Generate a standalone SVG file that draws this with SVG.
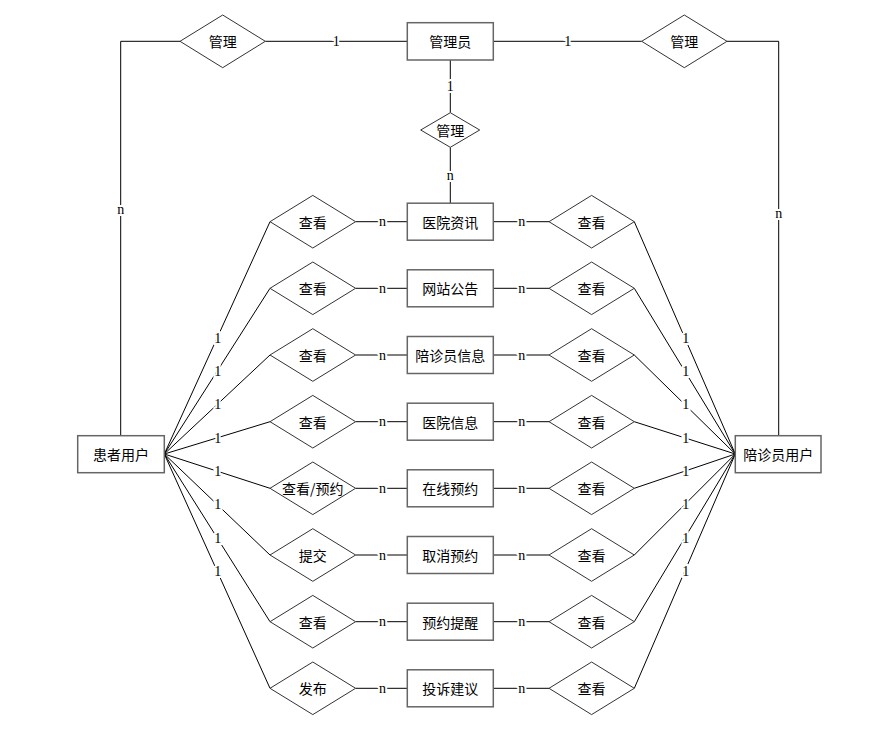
<svg xmlns="http://www.w3.org/2000/svg" width="882" height="736" viewBox="0 0 882 736">
<style>
.ent{fill:#fff;stroke:#666;stroke-width:1.5}
.rel{fill:#fff;stroke:#333;stroke-width:1}
.ln{fill:none;stroke:#000;stroke-width:1}
.t{font-family:"Noto Sans CJK SC","Liberation Sans",sans-serif;font-size:14px;text-anchor:middle;dominant-baseline:central;fill:#000}
.c{font-family:"Liberation Serif",serif;font-size:14px;text-anchor:middle;dominant-baseline:central;fill:#000;stroke:#fff;stroke-width:4;paint-order:stroke}
</style>
<rect width="882" height="736" fill="#fff"/>
<g id="connectors">
<polyline class="ln" points="180,41.3 120.7,41.3 120.7,436"/>
<line class="ln" x1="265.3" y1="41.3" x2="407.3" y2="41.3"/>
<line class="ln" x1="493.3" y1="41.3" x2="641.7" y2="41.3"/>
<polyline class="ln" points="727,41.3 778.7,41.3 778.7,436"/>
<line class="ln" x1="450.3" y1="60" x2="450.3" y2="112.7"/>
<line class="ln" x1="450.3" y1="147.3" x2="450.3" y2="203.3"/>
<g id="row-lines">
<line class="ln" x1="355.6" y1="221.7" x2="407.3" y2="221.7"/><line class="ln" x1="493.3" y1="221.7" x2="549" y2="221.7"/>
<line class="ln" x1="355.6" y1="288.3" x2="407.3" y2="288.3"/><line class="ln" x1="493.3" y1="288.3" x2="549" y2="288.3"/>
<line class="ln" x1="355.6" y1="355" x2="407.3" y2="355"/><line class="ln" x1="493.3" y1="355" x2="549" y2="355"/>
<line class="ln" x1="355.6" y1="421.7" x2="407.3" y2="421.7"/><line class="ln" x1="493.3" y1="421.7" x2="549" y2="421.7"/>
<line class="ln" x1="355.6" y1="488.3" x2="407.3" y2="488.3"/><line class="ln" x1="493.3" y1="488.3" x2="549" y2="488.3"/>
<line class="ln" x1="355.6" y1="555" x2="407.3" y2="555"/><line class="ln" x1="493.3" y1="555" x2="549" y2="555"/>
<line class="ln" x1="355.6" y1="621.7" x2="407.3" y2="621.7"/><line class="ln" x1="493.3" y1="621.7" x2="549" y2="621.7"/>
<line class="ln" x1="355.6" y1="688.3" x2="407.3" y2="688.3"/><line class="ln" x1="493.3" y1="688.3" x2="549" y2="688.3"/>
</g>
<g id="fan-lines">
<line class="ln" x1="164.3" y1="454" x2="270" y2="221.7"/><line class="ln" x1="735.3" y1="454" x2="634.3" y2="221.7"/>
<line class="ln" x1="164.3" y1="454" x2="270" y2="288.3"/><line class="ln" x1="735.3" y1="454" x2="634.3" y2="288.3"/>
<line class="ln" x1="164.3" y1="454" x2="270" y2="355"/><line class="ln" x1="735.3" y1="454" x2="634.3" y2="355"/>
<line class="ln" x1="164.3" y1="454" x2="270" y2="421.7"/><line class="ln" x1="735.3" y1="454" x2="634.3" y2="421.7"/>
<line class="ln" x1="164.3" y1="454" x2="270" y2="488.3"/><line class="ln" x1="735.3" y1="454" x2="634.3" y2="488.3"/>
<line class="ln" x1="164.3" y1="454" x2="270" y2="555"/><line class="ln" x1="735.3" y1="454" x2="634.3" y2="555"/>
<line class="ln" x1="164.3" y1="454" x2="270" y2="621.7"/><line class="ln" x1="735.3" y1="454" x2="634.3" y2="621.7"/>
<line class="ln" x1="164.3" y1="454" x2="270" y2="688.3"/><line class="ln" x1="735.3" y1="454" x2="634.3" y2="688.3"/>
</g>
<g id="cardinalities">
<text class="c" x="336.3" y="41.3">1</text>
<text class="c" x="567.7" y="41.3">1</text>
<text class="c" x="450.3" y="86.7">1</text>
<text class="c" x="450.3" y="175.7">n</text>
<text class="c" x="120.7" y="209">n</text>
<text class="c" x="778.7" y="213.3">n</text>
<text class="c" x="382.5" y="221.7">n</text><text class="c" x="521.7" y="221.7">n</text>
<text class="c" x="382.5" y="288.3">n</text><text class="c" x="521.7" y="288.3">n</text>
<text class="c" x="382.5" y="355">n</text><text class="c" x="521.7" y="355">n</text>
<text class="c" x="382.5" y="421.7">n</text><text class="c" x="521.7" y="421.7">n</text>
<text class="c" x="382.5" y="488.3">n</text><text class="c" x="521.7" y="488.3">n</text>
<text class="c" x="382.5" y="555">n</text><text class="c" x="521.7" y="555">n</text>
<text class="c" x="382.5" y="621.7">n</text><text class="c" x="521.7" y="621.7">n</text>
<text class="c" x="382.5" y="688.3">n</text><text class="c" x="521.7" y="688.3">n</text>
<text class="c" x="217.7" y="338">1</text><text class="c" x="685.7" y="338">1</text>
<text class="c" x="217.7" y="371.3">1</text><text class="c" x="685.7" y="371.3">1</text>
<text class="c" x="217.7" y="404.7">1</text><text class="c" x="685.7" y="404.7">1</text>
<text class="c" x="217.7" y="438">1</text><text class="c" x="685.7" y="438">1</text>
<text class="c" x="217.7" y="471.3">1</text><text class="c" x="685.7" y="471.3">1</text>
<text class="c" x="217.7" y="504.7">1</text><text class="c" x="685.7" y="504.7">1</text>
<text class="c" x="217.7" y="538">1</text><text class="c" x="685.7" y="538">1</text>
<text class="c" x="217.7" y="571.3">1</text><text class="c" x="685.7" y="571.3">1</text>
</g>
</g>
<g id="admin"><rect class="ent" x="407.3" y="22.7" width="86" height="37.3"/><text class="t" x="450.3" y="41.3">管理员</text></g>
<g id="patient"><rect class="ent" x="77.7" y="435.7" width="86.6" height="37"/><text class="t" x="121" y="454.2">患者用户</text></g>
<g id="escort"><rect class="ent" x="735.3" y="435.7" width="85.7" height="37"/><text class="t" x="778.2" y="454.2">陪诊员用户</text></g>
<g id="rel-manage-left"><polygon class="rel" points="180,41.3 222.7,15 265.3,41.3 222.7,67.7"/><text class="t" x="222.7" y="41.3">管理</text></g>
<g id="rel-manage-right"><polygon class="rel" points="641.7,41.3 684.3,15 727,41.3 684.3,67.7"/><text class="t" x="684.3" y="41.3">管理</text></g>
<g id="rel-manage-mid"><polygon class="rel" points="420.7,130 450.3,112.7 479.7,130 450.3,147.3"/><text class="t" x="450.3" y="130">管理</text></g>
<g id="e1"><rect class="ent" x="407.3" y="203.2" width="86" height="37"/><text class="t" x="450.3" y="221.7">医院资讯</text></g>
<g id="e2"><rect class="ent" x="407.3" y="269.8" width="86" height="37"/><text class="t" x="450.3" y="288.3">网站公告</text></g>
<g id="e3"><rect class="ent" x="407.3" y="336.5" width="86" height="37"/><text class="t" x="450.3" y="355">陪诊员信息</text></g>
<g id="e4"><rect class="ent" x="407.3" y="403.2" width="86" height="37"/><text class="t" x="450.3" y="421.7">医院信息</text></g>
<g id="e5"><rect class="ent" x="407.3" y="469.8" width="86" height="37"/><text class="t" x="450.3" y="488.3">在线预约</text></g>
<g id="e6"><rect class="ent" x="407.3" y="536.5" width="86" height="37"/><text class="t" x="450.3" y="555">取消预约</text></g>
<g id="e7"><rect class="ent" x="407.3" y="603.2" width="86" height="37"/><text class="t" x="450.3" y="621.7">预约提醒</text></g>
<g id="e8"><rect class="ent" x="407.3" y="669.8" width="86" height="37"/><text class="t" x="450.3" y="688.3">投诉建议</text></g>
<g id="l1"><polygon class="rel" points="270,221.7 312.8,195.4 355.6,221.7 312.8,248"/><text class="t" x="312.8" y="221.7">查看</text></g>
<g id="l2"><polygon class="rel" points="270,288.3 312.8,262 355.6,288.3 312.8,314.6"/><text class="t" x="312.8" y="288.3">查看</text></g>
<g id="l3"><polygon class="rel" points="270,355 312.8,328.7 355.6,355 312.8,381.3"/><text class="t" x="312.8" y="355">查看</text></g>
<g id="l4"><polygon class="rel" points="270,421.7 312.8,395.4 355.6,421.7 312.8,448"/><text class="t" x="312.8" y="421.7">查看</text></g>
<g id="l5"><polygon class="rel" points="270,488.3 312.8,462 355.6,488.3 312.8,514.6"/><text class="t" x="312.8" y="488.3">查看/预约</text></g>
<g id="l6"><polygon class="rel" points="270,555 312.8,528.7 355.6,555 312.8,581.3"/><text class="t" x="312.8" y="555">提交</text></g>
<g id="l7"><polygon class="rel" points="270,621.7 312.8,595.4 355.6,621.7 312.8,648"/><text class="t" x="312.8" y="621.7">查看</text></g>
<g id="l8"><polygon class="rel" points="270,688.3 312.8,662 355.6,688.3 312.8,714.6"/><text class="t" x="312.8" y="688.3">发布</text></g>
<g id="r1"><polygon class="rel" points="549,221.7 591.6,195.4 634.3,221.7 591.6,248"/><text class="t" x="591.6" y="221.7">查看</text></g>
<g id="r2"><polygon class="rel" points="549,288.3 591.6,262 634.3,288.3 591.6,314.6"/><text class="t" x="591.6" y="288.3">查看</text></g>
<g id="r3"><polygon class="rel" points="549,355 591.6,328.7 634.3,355 591.6,381.3"/><text class="t" x="591.6" y="355">查看</text></g>
<g id="r4"><polygon class="rel" points="549,421.7 591.6,395.4 634.3,421.7 591.6,448"/><text class="t" x="591.6" y="421.7">查看</text></g>
<g id="r5"><polygon class="rel" points="549,488.3 591.6,462 634.3,488.3 591.6,514.6"/><text class="t" x="591.6" y="488.3">查看</text></g>
<g id="r6"><polygon class="rel" points="549,555 591.6,528.7 634.3,555 591.6,581.3"/><text class="t" x="591.6" y="555">查看</text></g>
<g id="r7"><polygon class="rel" points="549,621.7 591.6,595.4 634.3,621.7 591.6,648"/><text class="t" x="591.6" y="621.7">查看</text></g>
<g id="r8"><polygon class="rel" points="549,688.3 591.6,662 634.3,688.3 591.6,714.6"/><text class="t" x="591.6" y="688.3">查看</text></g>
</svg>
